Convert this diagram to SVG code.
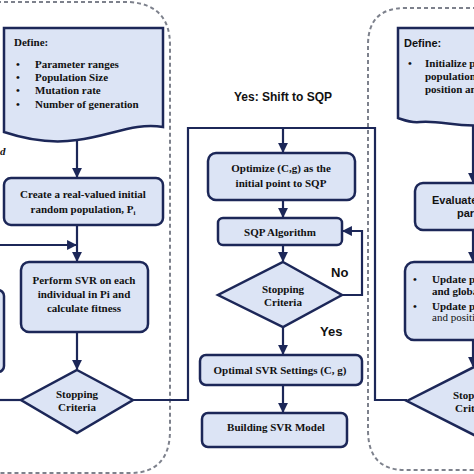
<svg xmlns="http://www.w3.org/2000/svg" width="474" height="474" viewBox="0 0 474 474">
<defs>
<marker id="ah" viewBox="0 0 10 10" refX="9" refY="5" markerWidth="4.5" markerHeight="4.5" orient="auto">
<path d="M0,0 L10,5 L0,10 Z" fill="#1c2758"/>
</marker>
<style>
.box{fill:#dce4f5;stroke:#1c2758;stroke-width:2.5}
.cont{fill:none;stroke:#7d818c;stroke-width:2;stroke-dasharray:4 3}
.ln{fill:none;stroke:#1c2758;stroke-width:2.2}
.ar{fill:none;stroke:#1c2758;stroke-width:2.2;marker-end:url(#ah)}
.t{font-family:"Liberation Serif","Times New Roman",serif;font-weight:bold;font-size:11px;fill:#111}
.s{font-family:"Liberation Sans",Arial,sans-serif;font-weight:bold;font-size:11px;fill:#111}
.c{text-anchor:middle}
</style>
</defs>
<rect width="474" height="474" fill="#fff"/>
<g id="containers">
<path class="cont" d="M-10,2 H130 Q170,5 170,45 V430 Q170,473 130,473 H-10"/>
<path class="cont" d="M484,8 H405 Q368,8 368,45 V430 Q368,470 405,470 H484"/>
</g>
<g id="connectors">
<path class="ar" d="M77,140 V177"/>
<path class="ar" d="M0,245 H76"/>
<path class="ar" d="M77,225 V261"/>
<path class="ar" d="M77,332 V369"/>
<path class="ln" d="M0,400 H21"/>
<path class="ln" d="M133,400 H188 V128 H375 V400 H407"/>
<path class="ar" d="M283,128 V152"/>
<path class="ar" d="M283,200 V217"/>
<path class="ar" d="M283,245 V261"/>
<path class="ar" d="M342,295 H362 V231 H343"/>
<path class="ar" d="M283,327 V354"/>
<path class="ar" d="M283,385 V412"/>
<path class="ar" d="M473,124 V182"/>
<path class="ar" d="M473,230 V261"/>
<path class="ar" d="M473,340 V366"/>
<text class="s c" x="283" y="101" style="font-size:12px">Yes: Shift to SQP</text>
<text class="s" x="331" y="277" style="font-size:13px">No</text>
<text class="s" x="320" y="336" style="font-size:13px">Yes</text>
<text class="t" x="0" y="155" style="font-style:italic">d</text>
</g>
<g id="define-ga">
<path class="box" d="M4,28 H163 V127 C135,122 110,136 77,140 C50,144 25,139 4,132 Z"/>
<text class="t" x="14" y="46">Define:</text>
<text class="t" x="16" y="68">•</text><text class="t" x="35" y="68">Parameter ranges</text>
<text class="t" x="16" y="81">•</text><text class="t" x="35" y="81">Population Size</text>
<text class="t" x="16" y="94">•</text><text class="t" x="35" y="94">Mutation rate</text>
<text class="t" x="16" y="108">•</text><text class="t" x="35" y="108">Number of generation</text>
</g>
<g id="create">
<rect class="box" x="4" y="178" width="159" height="47" rx="7"/>
<text class="t c" x="83" y="198">Create a real-valued initial</text>
<text class="t c" x="83" y="213">random population, P<tspan font-size="7" dy="2">i</tspan></text>
</g>
<g id="partial-left">
<rect class="box" x="-20" y="290" width="24" height="82" rx="6"/>
</g>
<g id="perform">
<rect class="box" x="21" y="262" width="127" height="70" rx="8"/>
<text class="t c" x="84" y="284">Perform SVR on each</text>
<text class="t c" x="84" y="298">individual in Pi and</text>
<text class="t c" x="84" y="312">calculate fitness</text>
</g>
<g id="stop-ga">
<path class="box" d="M77,370 L133,400 L77,433 L21,400 Z"/>
<text class="t c" x="77" y="398">Stopping</text>
<text class="t c" x="77" y="411">Criteria</text>
</g>
<g id="optimize">
<rect class="box" x="208" y="153" width="147" height="47" rx="8"/>
<text class="t c" x="281" y="172">Optimize (C,g) as the</text>
<text class="t c" x="281" y="187">initial point to SQP</text>
</g>
<g id="sqp">
<rect class="box" x="218" y="218" width="124" height="27" rx="5"/>
<text class="t c" x="280" y="236">SQP Algorithm</text>
</g>
<g id="stop-sqp">
<path class="box" d="M283,262 L342,295 L283,327 L218,295 Z"/>
<text class="t c" x="283" y="293">Stopping</text>
<text class="t c" x="283" y="306">Criteria</text>
</g>
<g id="optimal">
<rect class="box" x="200" y="355" width="162" height="30" rx="6"/>
<text class="t c" x="280" y="374">Optimal SVR Settings (C, g)</text>
</g>
<g id="building">
<rect class="box" x="202" y="413" width="145" height="34" rx="6"/>
<text class="t c" x="276" y="431">Building SVR Model</text>
</g>
<g id="define-pso">
<path class="box" d="M398,28 H490 V125 C460,128 440,120 420,122 C410,123 404,120 398,118 Z"/>
<text class="s" x="404" y="47">Define:</text>
<text class="t" x="408" y="67">•</text><text class="t" x="425" y="67">Initialize particle</text>
<text class="t" x="425" y="80">population</text>
<text class="t" x="425" y="93">position and</text>
</g>
<g id="evaluate">
<rect class="box" x="415" y="183" width="120" height="47" rx="8"/>
<text class="s" x="432" y="204">Evaluate fitness of</text>
<text class="s" x="457" y="217">particles</text>
</g>
<g id="update">
<rect class="box" x="405" y="262" width="130" height="78" rx="9"/>
<text class="t" x="413" y="283">•</text><text class="t" x="432" y="283">Update personal best</text>
<text class="t" x="432" y="295">and global best</text>
<text class="t" x="413" y="310">•</text><text class="t" x="432" y="310">Update particle velocity</text>
<text class="t" x="432" y="321" style="font-weight:normal">and position</text>
</g>
<g id="stop-pso">
<path class="box" d="M474,367 L541,401 L474,435 L407,401 Z"/>
<text class="t c" x="474" y="399">Stopping</text>
<text class="t c" x="474" y="412">Criteria</text>
</g>
</svg>
